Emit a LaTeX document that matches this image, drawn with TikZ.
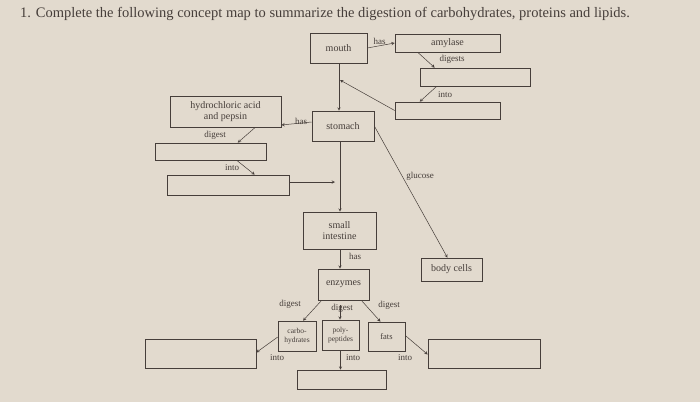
\documentclass[tikz,border=0pt]{standalone}
\usepackage{fontspec}
\setmainfont{Liberation Serif}
\definecolor{paper}{RGB}{226,218,206}
\definecolor{ink}{RGB}{70,62,58}
\begin{document}
\begin{tikzpicture}[x=1pt,y=-1pt,
  bx/.style={draw=ink,line width=0.6pt,text=ink,font=\fontsize{10}{11}\selectfont,align=center,inner sep=0pt},
  lbl/.style={text=ink,font=\fontsize{9}{10}\selectfont,inner sep=0pt},
  ar/.style={draw=ink,line width=0.5pt,->,>=stealth}]
\fill[paper] (0,0) rectangle (700,402);
\useasboundingbox (0,0) rectangle (700,402);
\node[anchor=west,text=ink,font=\fontsize{14.5}{16}\selectfont,inner sep=0pt] (title) at (20,14) {1. Complete the following concept map to summarize the digestion of carbohydrates, proteins and lipids.};
\newcommand{\bbox}[5]{\node[bx,minimum width=#4-#2,minimum height=#5-#3] (#1) at ({(#2+#4)/2},{(#3+#5)/2}) {};}
\node[bx,minimum width=57,minimum height=30] (mouth) at (338.5,48) {mouth};
\node[bx,minimum width=105,minimum height=18] (amy) at (447.5,43) {amylase};
\bbox{b1}{420}{68}{530}{86}
\bbox{b2}{395}{102}{500}{119}
\node[bx,minimum width=62,minimum height=30] (stom) at (343,126) {stomach};
\node[bx,minimum width=111,minimum height=31] (hcl) at (225.5,111.5) {hydrochloric acid\\and pepsin};
\bbox{b3}{155}{143}{266}{160}
\bbox{b4}{167}{175}{289}{195}
\node[bx,minimum width=73,minimum height=37] (si) at (339.5,230.5) {small\\intestine};
\node[bx,minimum width=51,minimum height=31] (enz) at (343.5,284.5) {enzymes};
\node[bx,minimum width=38,minimum height=30,font=\fontsize{7.5}{8.5}\selectfont] (carb) at (297,336) {carbo-\\hydrates};
\node[bx,minimum width=37,minimum height=30,font=\fontsize{7.5}{8.5}\selectfont] (poly) at (340.5,335) {poly-\\peptides};
\node[bx,minimum width=37,minimum height=29,font=\fontsize{8.5}{9.5}\selectfont] (fats) at (386.5,336.5) {fats};
\node[bx,minimum width=61,minimum height=23] (body) at (451.5,269.5) {body cells};
\bbox{b5}{145}{339}{256}{368}
\bbox{b6}{297}{370}{386}{389}
\bbox{b7}{428}{339}{540}{368}
\coordinate (m1) at (340,80);
\coordinate (s1) at (335,182);
% connectors
\draw[ar] (mouth.east) -- node[lbl,above,pos=0.45,yshift=1pt]{has} (amy.west);
\draw[ar] ([xshift=23pt]amy.south west) -- ([xshift=15pt]b1.north west);
\node[lbl] (l1) at (452,59) {digests};
\draw[ar] ([xshift=17pt]b1.south west) -- ([xshift=25pt]b2.north west);
\node[lbl] (l2) at (445,95) {into};
\draw[ar] (b2.west) -- (m1);
\draw[ar] (mouth.south -| 339,0) -- (stom.north -| 339,0);
\draw[ar] ([yshift=4pt]stom.west) -- (hcl.east |- 0,125);
\node[lbl] (l3) at (301,121) {has};
\draw[ar] ([xshift=-26pt]hcl.south east) -- ([xshift=83pt]b3.north west);
\node[lbl] (l4) at (215,135) {digest};
\draw[ar] ([xshift=82pt]b3.south west) -- ([xshift=88pt]b4.north west);
\node[lbl] (l5) at (232,168) {into};
\draw[ar] (b4.east |- s1) -- (s1);
\draw[ar] (stom.south -| 340,0) -- (si.north -| 340,0);
\draw[ar] (stom.east) -- ([xshift=-4pt]body.north);
\node[lbl] (l6) at (420,176) {glucose};
\draw[ar] (si.south -| 340,0) -- (enz.north -| 340,0);
\node[lbl] (l7) at (355,256) {has};
\draw[ar] ([xshift=4pt]enz.south west) -- ([xshift=6pt]carb.north);
\draw[ar] (340,305) -- (poly.north -| 340,0);
\draw[ar] ([xshift=-8pt]enz.south east) -- ([xshift=-6pt]fats.north);
\node[lbl] (l8) at (290,304) {digest};
\node[lbl] (l9) at (342,308) {digest};
\node[lbl] (l10) at (389,305) {digest};
\draw[ar] ([yshift=-1pt]carb.west) -- ([yshift=1pt]b5.east);
\node[lbl] (l11) at (277,358) {into};
\draw[ar] (poly.south) -- (b6.north -| poly.south);
\node[lbl] (l12) at (353,358) {into};
\draw[ar] ([yshift=1pt]fats.east) -- ([yshift=-1pt]b7.west);
\node[lbl] (l13) at (405,358) {into};
\end{tikzpicture}
\end{document}
